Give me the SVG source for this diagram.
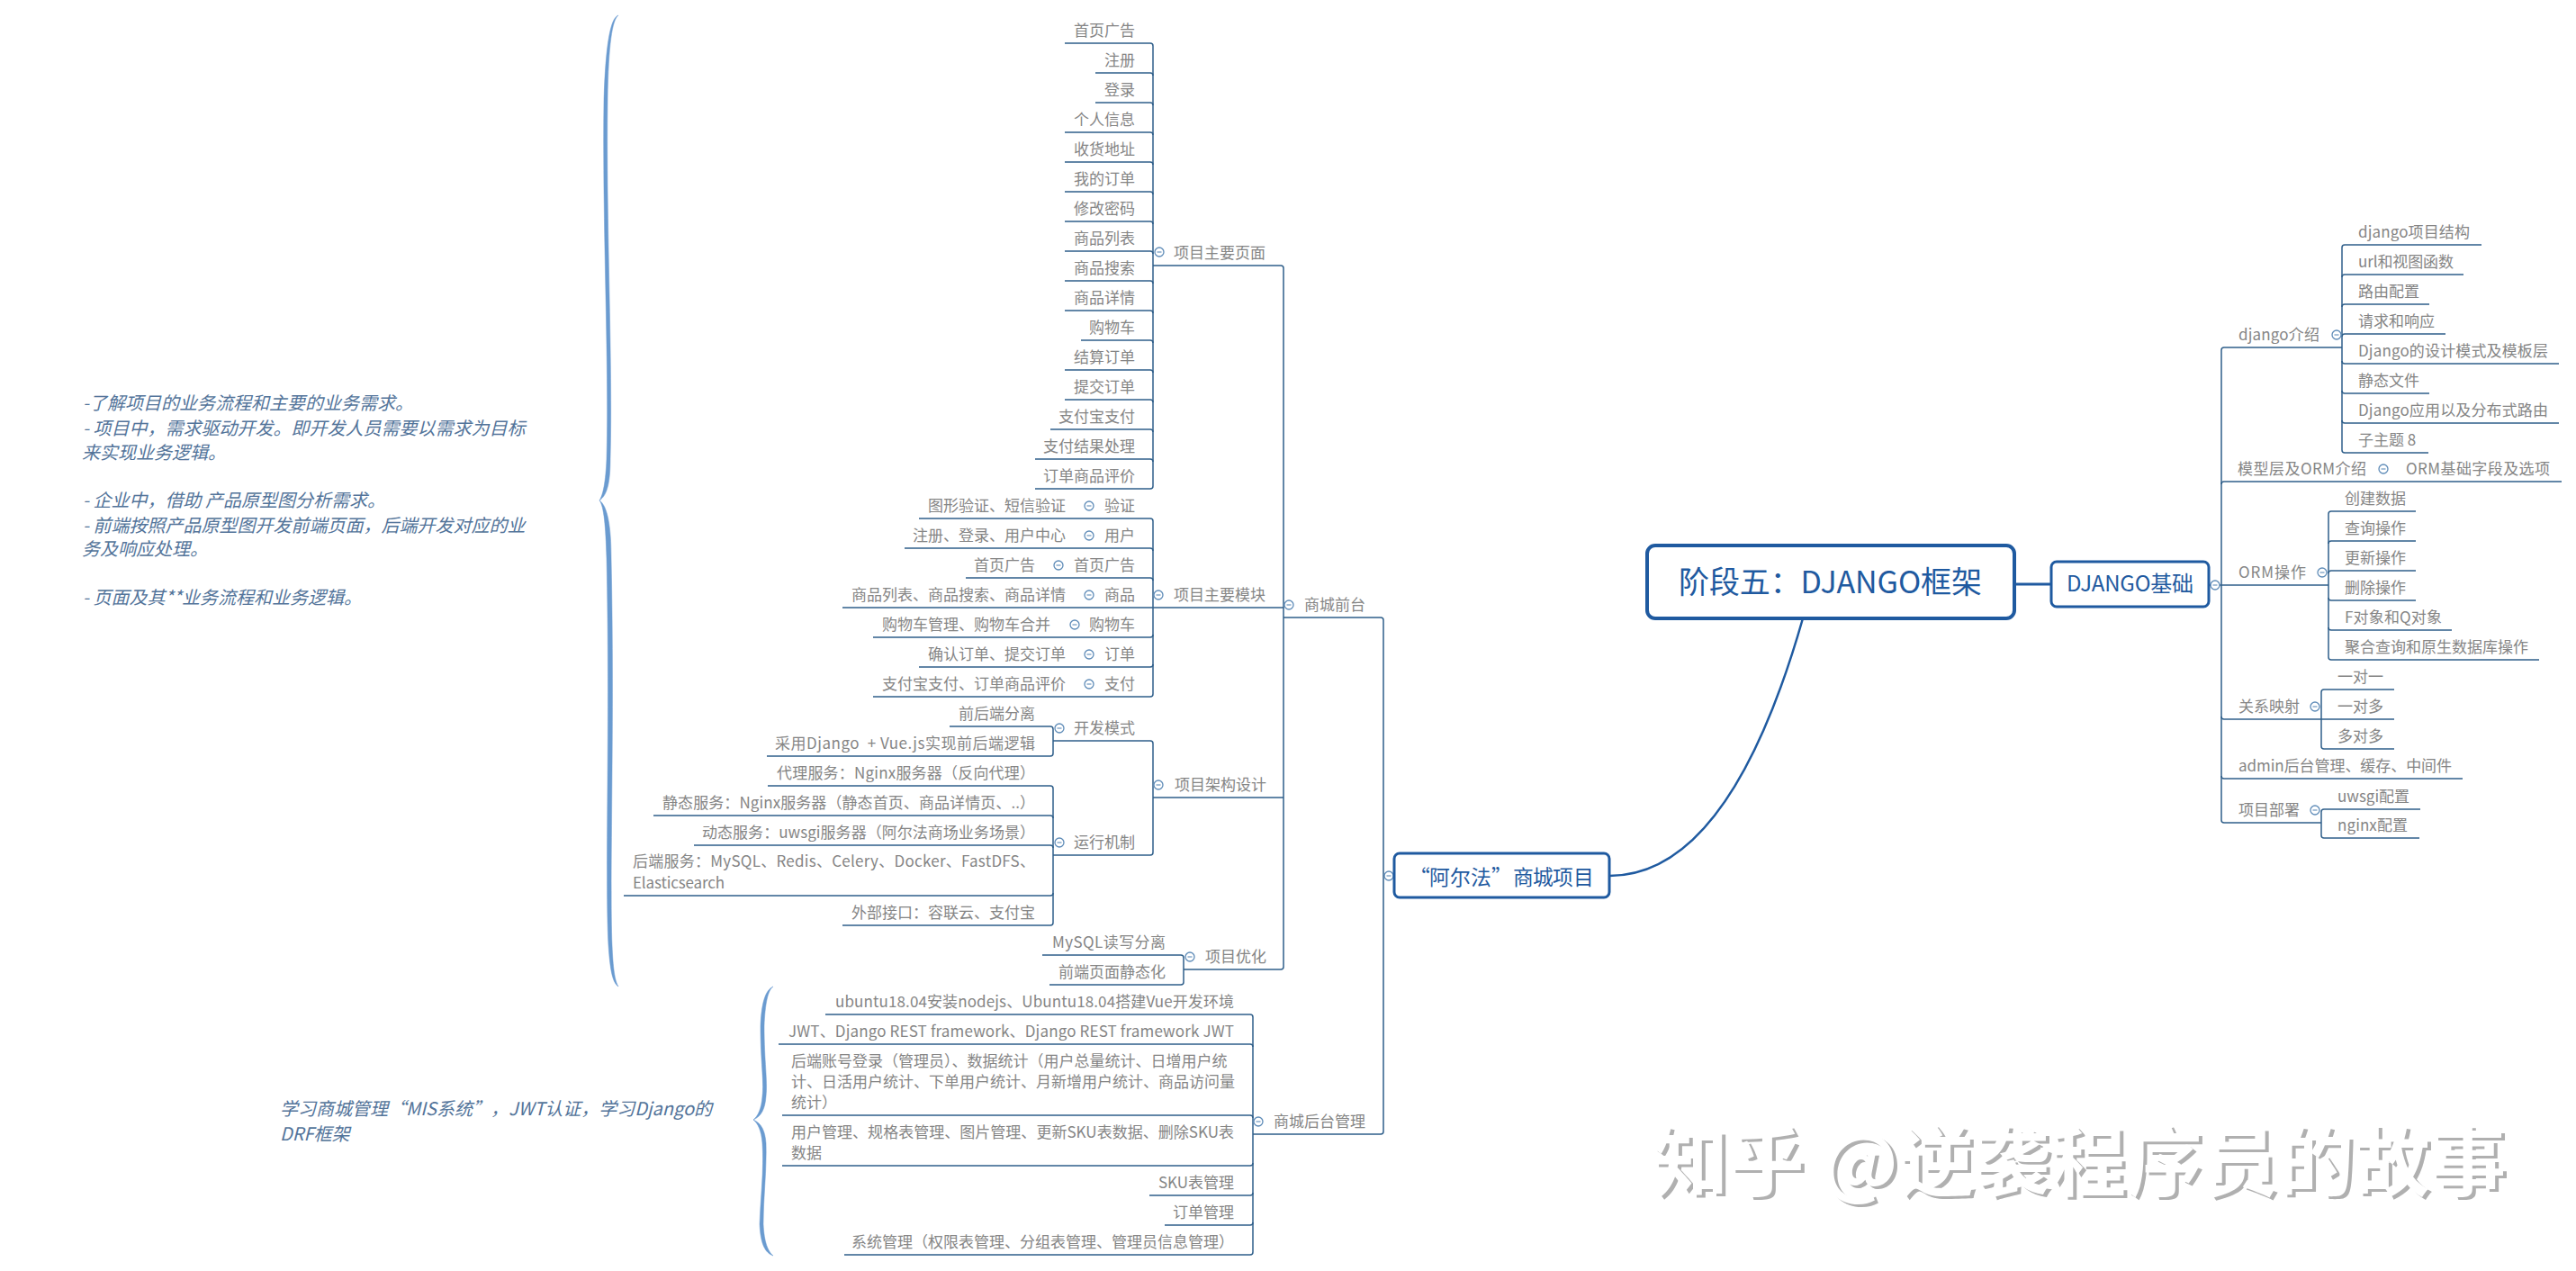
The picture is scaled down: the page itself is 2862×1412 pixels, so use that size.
<svg xmlns="http://www.w3.org/2000/svg" width="2862" height="1412" viewBox="0 0 2862 1412">
<style>
text{font-family:"Noto Sans CJK SC","Liberation Sans",sans-serif}
.t{font-size:17px;fill:#858585}
.e{text-anchor:end}
.n{font-size:20px;font-style:italic;fill:#53749a}
.c{fill:none;stroke:#2f5f8a;stroke-width:1.5}
.m{fill:none;stroke:#1f5aa0;stroke-width:2.5}
.box{fill:#fff;stroke:#1f5aa0}
.b{fill:#6a9bd0;stroke:#6a9bd0;stroke-width:.5}
.h{fill:#1f5aa0}
.wm{font-size:84px;font-weight:700;fill:#b0b0b0}
</style>
<defs>
<g id="fold"><circle r="5" fill="#fff" stroke="#5f8cb8" stroke-width="1.3"/><path d="M-2.5 0H2.5" stroke="#5f8cb8" stroke-width="1.1"/></g>
<filter id="relief" x="-2%" y="-10%" width="104%" height="120%">
<feOffset in="SourceAlpha" dx="-4" dy="-3" result="o"/>
<feComposite in="SourceGraphic" in2="o" operator="out"/>
</filter>
</defs>
<rect width="2862" height="1412" fill="#fff"/>

<g id="connectors">
<path class="m" d="M2003 687C1965 820 1900 973 1788 973"/>
<path class="m" style="stroke-width:3" d="M2238 649H2279"/>
<path class="c" d="M1426 686H1534Q1537 686 1537 689V1257Q1537 1260 1534 1260H1392"/>
<path class="c" d="M1281 295H1423Q1426 295 1426 298V1074Q1426 1077 1423 1077H1315"/>
<path class="c" d="M1281 675H1426M1281 886H1426M1170 823H1278Q1281 823 1281 826V947Q1281 950 1278 950H1170"/>
<path class="c" d="M1537 973H1549"/>
<path class="c" d="M1183 48H1278Q1281 48 1281 51V540Q1281 543 1278 543H1150"/>
<path class="c" d="M1217 81H1278Q1281 81 1281 84M1217 114H1278Q1281 114 1281 117M1183 147H1278Q1281 147 1281 150M1183 180H1278Q1281 180 1281 183M1183 213H1278Q1281 213 1281 216M1183 246H1278Q1281 246 1281 249M1183 279H1278Q1281 279 1281 282M1183 312H1278Q1281 312 1281 315M1183 345H1278Q1281 345 1281 348M1201 378H1278Q1281 378 1281 381M1183 411H1278Q1281 411 1281 414M1183 444H1278Q1281 444 1281 447M1167 477H1278Q1281 477 1281 480M1150 510H1278Q1281 510 1281 513"/>
<path class="c" d="M1021 576H1278Q1281 576 1281 579V771Q1281 774 1278 774H970"/>
<path class="c" d="M1005 609H1278Q1281 609 1281 612M1073 642H1278Q1281 642 1281 645M936 675H1281M970 708H1278Q1281 708 1281 705M1021 741H1278Q1281 741 1281 738"/>
<path class="c" d="M1055 807H1167Q1170 807 1170 810V837Q1170 840 1167 840H852"/>
<path class="c" d="M853 873H1167Q1170 873 1170 876V1025Q1170 1028 1167 1028H936"/>
<path class="c" d="M726 906H1167Q1170 906 1170 909M771 939H1167Q1170 939 1170 942M693 995H1167Q1170 995 1170 992"/>
<path class="c" d="M1158 1061H1312Q1315 1061 1315 1064V1091Q1315 1094 1312 1094H1166"/>
<path class="c" d="M917 1127H1389Q1392 1127 1392 1130V1391Q1392 1394 1389 1394H938"/>
<path class="c" d="M865 1160H1389Q1392 1160 1392 1163M869 1239H1389Q1392 1239 1392 1242M869 1295H1389Q1392 1295 1392 1292M1277 1328H1389Q1392 1328 1392 1325M1294 1361H1389Q1392 1361 1392 1358"/>
<path class="c" d="M2454 650H2587M2602 386H2471Q2468 386 2468 389V911Q2468 914 2471 914H2579"/>
<path class="c" d="M2757 272H2605Q2602 272 2602 275V500Q2602 503 2605 503H2698"/>
<path class="c" d="M2737 305H2605Q2602 305 2602 308M2699 338H2605Q2602 338 2602 341M2717 371H2605Q2602 371 2602 374M2843 404H2605Q2602 404 2602 401M2699 437H2605Q2602 437 2602 434M2843 470H2605Q2602 470 2602 467"/>
<path class="c" d="M2846 535H2471Q2468 535 2468 538"/>
<path class="c" d="M2684 568H2590Q2587 568 2587 571V730Q2587 733 2590 733H2821"/>
<path class="c" d="M2684 601H2590Q2587 601 2587 604M2684 634H2590Q2587 634 2587 637M2684 667H2590Q2587 667 2587 664M2724 700H2590Q2587 700 2587 697"/>
<path class="c" d="M2660 766H2582Q2579 766 2579 769V829Q2579 832 2582 832H2660M2660 799H2471Q2468 799 2468 796"/>
<path class="c" d="M2736 865H2471Q2468 865 2468 862"/>
<path class="c" d="M2689 899H2582Q2579 899 2579 902V928Q2579 931 2582 931H2688"/>
<use href="#fold" x="1288" y="280"/><use href="#fold" x="1287" y="661"/><use href="#fold" x="1432" y="672"/><use href="#fold" x="1210" y="562"/><use href="#fold" x="1210" y="595"/><use href="#fold" x="1176" y="628"/><use href="#fold" x="1210" y="661"/><use href="#fold" x="1194" y="694"/><use href="#fold" x="1210" y="727"/><use href="#fold" x="1210" y="760"/>
<use href="#fold" x="1177" y="809"/><use href="#fold" x="1287" y="872"/><use href="#fold" x="1177" y="936"/><use href="#fold" x="1322" y="1063"/><use href="#fold" x="1398" y="1246"/><use href="#fold" x="1543" y="973"/>
<use href="#fold" x="2461" y="650"/><use href="#fold" x="2596" y="372"/><use href="#fold" x="2648" y="521"/><use href="#fold" x="2580" y="636"/><use href="#fold" x="2572" y="785"/><use href="#fold" x="2572" y="900"/>
</g>

<g id="brace-front">
<path class="b" d="M687 17C678 20 673 50 671 110C669 250 677 400 674 510C673 535 670 550 666 556C671 562 673 585 674 620C678 800 672 980 676 1050C678 1080 681 1092 687 1096C683 1090 681 1075 680 1050C677 980 683 800 679 620C679 585 675 562 666 556C675 550 678 535 678 510C681 400 673 250 675 110C676 50 680 22 687 17Z"/>
</g>
<g id="brace-admin">
<path class="b" d="M859 1096C850 1100 846 1115 845 1140C845 1180 849 1200 847 1218C846 1232 842 1240 837 1244C842 1248 846 1256 847 1270C849 1300 845 1330 844 1360C845 1382 850 1392 859 1395C853 1390 849 1380 848 1360C848 1330 852 1300 851 1270C850 1256 846 1248 837 1244C846 1240 850 1232 851 1218C853 1200 849 1180 849 1140C850 1115 853 1100 859 1096Z"/>
</g>

<g id="note-front">
<text class="n" x="92" y="455">-了解项目的业务流程和主要的业务需求。</text>
<text class="n" x="92" y="483">- 项目中，需求驱动开发。即开发人员需要以需求为目标</text>
<text class="n" x="91" y="510">来实现业务逻辑。</text>
<text class="n" x="92" y="563">- 企业中，借助 产品原型图分析需求。</text>
<text class="n" x="92" y="591">- 前端按照产品原型图开发前端页面，后端开发对应的业</text>
<text class="n" x="91" y="617">务及响应处理。</text>
<text class="n" x="92" y="671">- 页面及其**业务流程和业务逻辑。</text>
</g>
<g id="note-admin">
<text class="n" x="311" y="1239">学习商城管理“MIS系统”，JWT认证，学习Django的</text>
<text class="n" x="311" y="1267">DRF框架</text>
</g>

<g id="root"><rect class="box" x="1830" y="606" width="408" height="81" rx="9" stroke-width="4"/><text class="h" x="1865" y="659" font-size="34" textLength="337">阶段五：DJANGO框架</text></g>
<g id="django-base"><rect class="box" x="2279" y="624" width="175" height="50" rx="6" stroke-width="3"/><text class="h" x="2296" y="657" font-size="24" textLength="141">DJANGO基础</text></g>
<g id="alpha"><rect class="box" x="1549" y="948" width="239" height="49" rx="6" stroke-width="3"/><text class="h" x="1566 1588 1611 1634 1657 1681 1703 1725 1748" y="983" font-size="22.8">“阿尔法”商城项目</text></g>

<g id="shop-front"><text class="t" x="1449" y="678">商城前台</text></g>
<g id="shop-admin"><text class="t" x="1415" y="1252">商城后台管理</text></g>
<g id="pages"><text class="t" x="1304" y="287">项目主要页面</text></g>
<g id="modules"><text class="t" x="1304" y="667">项目主要模块</text></g>
<g id="arch"><text class="t" x="1305" y="878">项目架构设计</text></g>
<g id="dev-mode"><text class="t" x="1193" y="815">开发模式</text></g>
<g id="run-mode"><text class="t" x="1193" y="942">运行机制</text></g>
<g id="optimize"><text class="t" x="1339" y="1069">项目优化</text></g>

<g id="page-items">
<text class="t e" x="1261" y="40">首页广告</text>
<text class="t e" x="1261" y="73">注册</text>
<text class="t e" x="1261" y="106">登录</text>
<text class="t e" x="1261" y="139">个人信息</text>
<text class="t e" x="1261" y="172">收货地址</text>
<text class="t e" x="1261" y="205">我的订单</text>
<text class="t e" x="1261" y="238">修改密码</text>
<text class="t e" x="1261" y="271">商品列表</text>
<text class="t e" x="1261" y="304">商品搜索</text>
<text class="t e" x="1261" y="337">商品详情</text>
<text class="t e" x="1261" y="370">购物车</text>
<text class="t e" x="1261" y="403">结算订单</text>
<text class="t e" x="1261" y="436">提交订单</text>
<text class="t e" x="1261" y="469">支付宝支付</text>
<text class="t e" x="1261" y="502">支付结果处理</text>
<text class="t e" x="1261" y="535">订单商品评价</text>
</g>
<g id="module-items">
<text class="t e" x="1261" y="568">验证</text><text class="t e" x="1184" y="568">图形验证、短信验证</text>
<text class="t e" x="1261" y="601">用户</text><text class="t e" x="1184" y="601">注册、登录、用户中心</text>
<text class="t e" x="1261" y="634">首页广告</text><text class="t e" x="1150" y="634">首页广告</text>
<text class="t e" x="1261" y="667">商品</text><text class="t e" x="1184" y="667">商品列表、商品搜索、商品详情</text>
<text class="t e" x="1261" y="700">购物车</text><text class="t e" x="1167" y="700">购物车管理、购物车合并</text>
<text class="t e" x="1261" y="733">订单</text><text class="t e" x="1184" y="733">确认订单、提交订单</text>
<text class="t e" x="1261" y="766">支付</text><text class="t e" x="1184" y="766">支付宝支付、订单商品评价</text>
</g>
<g id="arch-items">
<text class="t e" x="1150" y="799">前后端分离</text>
<text class="t e" x="1150" y="832" textLength="289" xml:space="preserve">采用Django  + Vue.js实现前后端逻辑</text>
<text class="t e" x="1150" y="865" textLength="287">代理服务：Nginx服务器（反向代理）</text>
<text class="t e" x="1150" y="898" textLength="414">静态服务：Nginx服务器（静态首页、商品详情页、..）</text>
<text class="t e" x="1150" y="931" textLength="370">动态服务：uwsgi服务器（阿尔法商场业务场景）</text>
<text class="t" x="703" y="963" textLength="447">后端服务：MySQL、Redis、Celery、Docker、FastDFS、</text>
<text class="t" x="703" y="987" textLength="102">Elasticsearch</text>
<text class="t e" x="1150" y="1020">外部接口：容联云、支付宝</text>
<text class="t e" x="1295" y="1053" textLength="126">MySQL读写分离</text>
<text class="t e" x="1295" y="1086">前端页面静态化</text>
</g>
<g id="admin-items">
<text class="t e" x="1371" y="1119" textLength="443">ubuntu18.04安装nodejs、Ubuntu18.04搭建Vue开发环境</text>
<text class="t e" x="1371" y="1152" textLength="495">JWT、Django REST framework、Django REST framework JWT</text>
<text class="t" x="879" y="1185">后端账号登录（管理员）、数据统计（用户总量统计、日增用户统</text>
<text class="t" x="879" y="1208">计、日活用户统计、下单用户统计、月新增用户统计、商品访问量</text>
<text class="t" x="879" y="1231">统计）</text>
<text class="t" x="879" y="1264" textLength="492">用户管理、规格表管理、图片管理、更新SKU表数据、删除SKU表</text>
<text class="t" x="879" y="1287">数据</text>
<text class="t e" x="1371" y="1320">SKU表管理</text>
<text class="t e" x="1371" y="1353">订单管理</text>
<text class="t e" x="1371" y="1386">系统管理（权限表管理、分组表管理、管理员信息管理）</text>
</g>

<g id="django-items">
<text class="t" x="2487" y="378" textLength="90">django介绍</text>
<text class="t" x="2620" y="264" textLength="124">django项目结构</text>
<text class="t" x="2620" y="297" textLength="106">url和视图函数</text>
<text class="t" x="2620" y="330">路由配置</text>
<text class="t" x="2620" y="363">请求和响应</text>
<text class="t" x="2620" y="396" textLength="211">Django的设计模式及模板层</text>
<text class="t" x="2620" y="429">静态文件</text>
<text class="t" x="2620" y="462" textLength="211">Django应用以及分布式路由</text>
<text class="t" x="2620" y="495">子主题 8</text>
</g>
<g id="orm-items">
<text class="t" x="2486" y="527" textLength="143">模型层及ORM介绍</text>
<text class="t" x="2673" y="527" textLength="160">ORM基础字段及选项</text>
<text class="t" x="2487" y="642" textLength="75">ORM操作</text>
<text class="t" x="2605" y="560">创建数据</text>
<text class="t" x="2605" y="593">查询操作</text>
<text class="t" x="2605" y="626">更新操作</text>
<text class="t" x="2605" y="659">删除操作</text>
<text class="t" x="2605" y="692" textLength="108">F对象和Q对象</text>
<text class="t" x="2605" y="725">聚合查询和原生数据库操作</text>
</g>
<g id="relation-items">
<text class="t" x="2487" y="791">关系映射</text>
<text class="t" x="2597" y="758">一对一</text>
<text class="t" x="2597" y="791">一对多</text>
<text class="t" x="2597" y="824">多对多</text>
<text class="t" x="2487" y="857" textLength="237">admin后台管理、缓存、中间件</text>
</g>
<g id="deploy-items">
<text class="t" x="2487" y="906">项目部署</text>
<text class="t" x="2597" y="891" textLength="80">uwsgi配置</text>
<text class="t" x="2597" y="923" textLength="78">nginx配置</text>
</g>

<g id="watermark"><text class="wm" x="1840" y="1325" textLength="948" filter="url(#relief)" xml:space="preserve">知乎 @逆袭程序员的故事</text></g>
</svg>
